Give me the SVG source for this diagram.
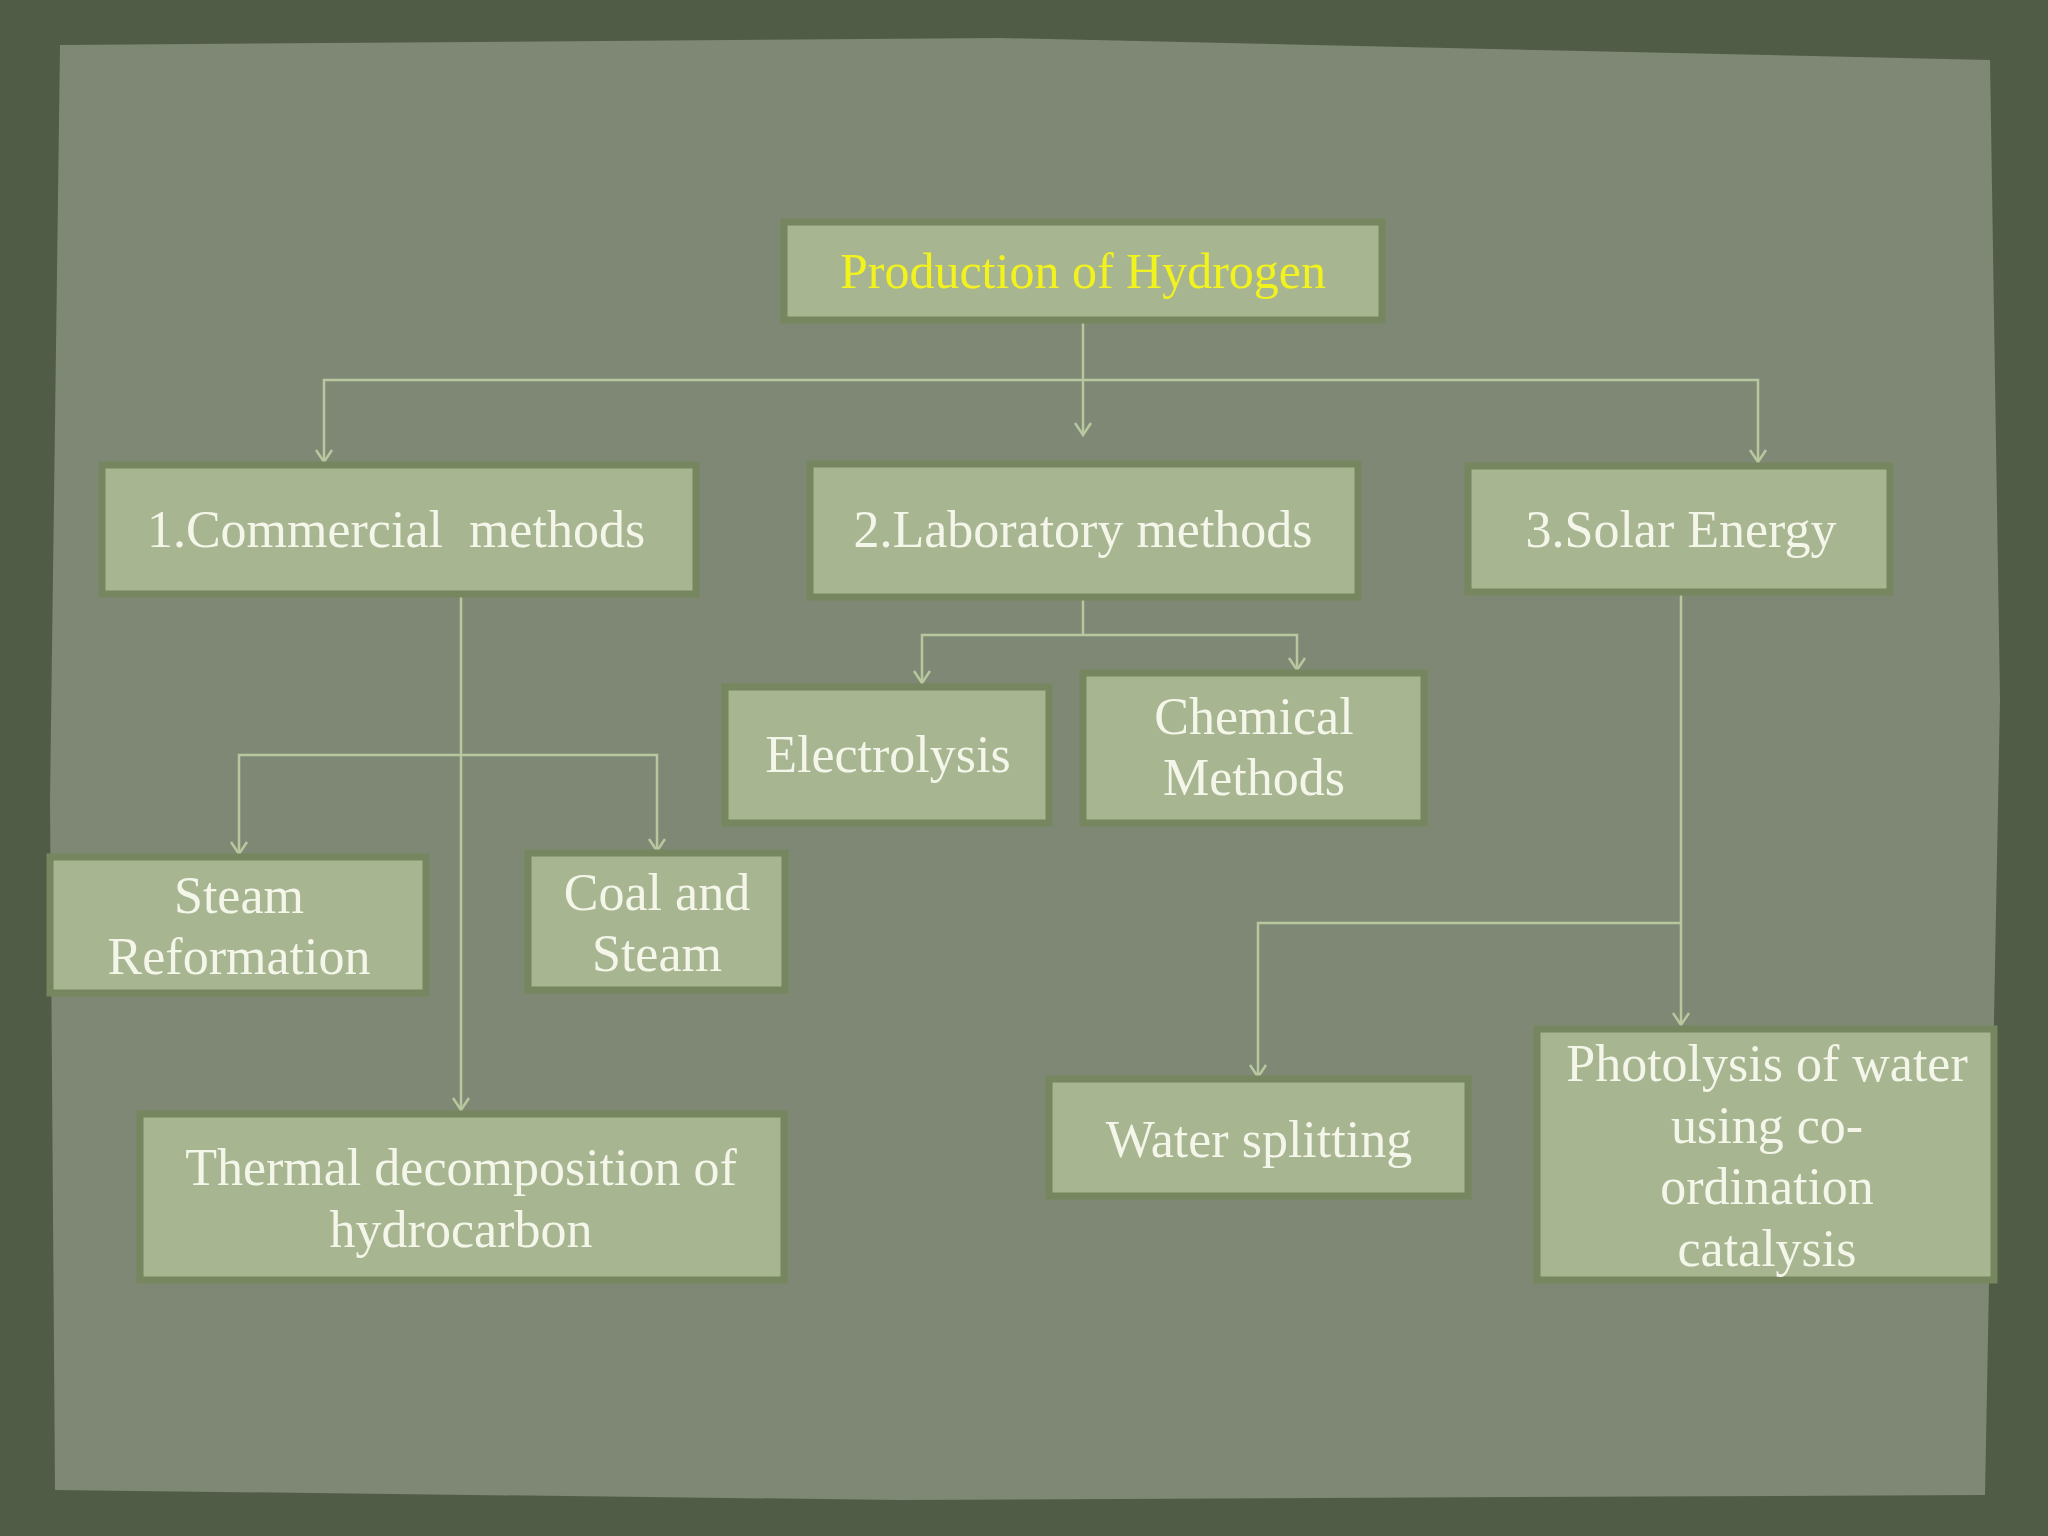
<svg xmlns="http://www.w3.org/2000/svg" width="2048" height="1536" viewBox="0 0 2048 1536">
<defs>
<style>
.box{fill:#a7b590;stroke:#76865f;stroke-width:7}
.t{font-family:"Liberation Serif",serif;font-size:52px;fill:#f4f6ea;text-anchor:middle}
.c{fill:none;stroke:#b9c79e;stroke-width:2.5}
</style>
<marker id="a" viewBox="0 0 20 20" refX="18" refY="10" markerWidth="20" markerHeight="20" markerUnits="userSpaceOnUse" orient="auto-start-reverse">
<path d="M6,2 L18,10 L6,18" fill="none" stroke="#b9c79e" stroke-width="2.5"/>
</marker>
</defs>
<rect width="2048" height="1536" fill="#515c46"/>
<path d="M60,45 L1000,38 L1990,60 L2000,700 L1985,1495 L900,1500 L55,1490 L50,800 Z" fill="#7e8875"/>
<g id="connectors">
<path class="c" d="M1083,320 V435" marker-end="url(#a)"/>
<path class="c" d="M324,462 V380 H1758 V462" marker-start="url(#a)" marker-end="url(#a)"/>
<path class="c" d="M461,594 V1110" marker-end="url(#a)"/>
<path class="c" d="M239,854 V755 H657 V851" marker-start="url(#a)" marker-end="url(#a)"/>
<path class="c" d="M1083,597 V635"/>
<path class="c" d="M922,683 V635 H1297 V670" marker-start="url(#a)" marker-end="url(#a)"/>
<path class="c" d="M1681,594 V1025" marker-end="url(#a)"/>
<path class="c" d="M1258,1077 V923 H1681" marker-start="url(#a)"/>
</g>
<g id="title"><rect class="box" x="784" y="222" width="598" height="98"/><text class="t" x="1083" y="288" style="fill:#f2f21e;font-size:50px">Production of Hydrogen</text></g>
<g id="commercial"><rect class="box" x="102" y="465" width="594" height="129"/><text class="t" x="396" y="547" xml:space="preserve">1.Commercial  methods</text></g>
<g id="lab"><rect class="box" x="810" y="464" width="548" height="133"/><text class="t" x="1083" y="547">2.Laboratory methods</text></g>
<g id="solar"><rect class="box" x="1468" y="466" width="422" height="126"/><text class="t" x="1681" y="547">3.Solar Energy</text></g>
<g id="electrolysis"><rect class="box" x="725" y="687" width="324" height="136"/><text class="t" x="888" y="772">Electrolysis</text></g>
<g id="chemical"><rect class="box" x="1083" y="673" width="341" height="150"/><text class="t" x="1254" y="734">Chemical</text><text class="t" x="1254" y="795">Methods</text></g>
<g id="steam"><rect class="box" x="50" y="857" width="376" height="136"/><text class="t" x="239" y="913">Steam</text><text class="t" x="239" y="974">Reformation</text></g>
<g id="coal"><rect class="box" x="528" y="853" width="257" height="137"/><text class="t" x="657" y="910">Coal and</text><text class="t" x="657" y="971">Steam</text></g>
<g id="thermal"><rect class="box" x="140" y="1114" width="644" height="166"/><text class="t" x="461" y="1185">Thermal decomposition of</text><text class="t" x="461" y="1247">hydrocarbon</text></g>
<g id="water"><rect class="box" x="1049" y="1079" width="419" height="117"/><text class="t" x="1259" y="1157">Water splitting</text></g>
<g id="photolysis"><rect class="box" x="1537" y="1029" width="457" height="251"/><text class="t" x="1767" y="1081">Photolysis of water</text><text class="t" x="1767" y="1143">using co-</text><text class="t" x="1767" y="1204">ordination</text><text class="t" x="1767" y="1266">catalysis</text></g>
</svg>
